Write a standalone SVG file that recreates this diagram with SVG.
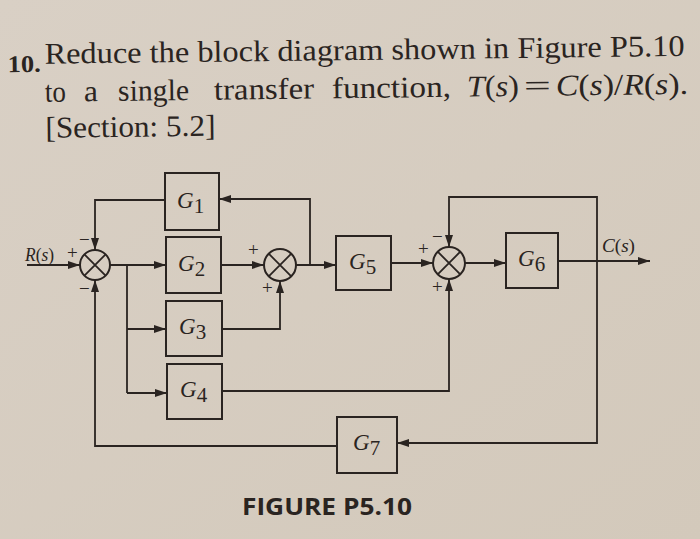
<svg xmlns="http://www.w3.org/2000/svg" width="700" height="539" viewBox="0 0 700 539">
<defs>
<marker id="ah" viewBox="0 0 12 8" refX="12" refY="4" markerWidth="12" markerHeight="8" markerUnits="userSpaceOnUse" orient="auto">
<path d="M0,0 L12,4 L0,8 Z" fill="#2a2421"/>
</marker>
<linearGradient id="bg" x1="0" y1="0" x2="1" y2="1">
<stop offset="0" stop-color="#d9d0c5"/>
<stop offset="1" stop-color="#d3c9bb"/>
</linearGradient>
</defs>
<style>
.t{font-family:"Liberation Serif","Times New Roman",serif;fill:#2a2421}
.l2{font-size:30px}
.i{font-style:italic}
.blk{fill:none;stroke:#2a2421;stroke-width:2}
.w{fill:none;stroke:#2a2421;stroke-width:1.8}
.a{marker-end:url(#ah)}
.g{font-family:"Liberation Serif",serif;font-style:italic;font-size:23px;fill:#2a2421}
.sub{font-style:normal;font-size:21px}
.s{font-family:"Liberation Serif",serif;font-size:19px;fill:#2a2421}
</style>
<rect width="700" height="539" fill="url(#bg)"/>
<g id="title" transform="rotate(-0.7 350 90)">
<text class="t" x="8" y="68" font-size="24" font-weight="bold" textLength="33" lengthAdjust="spacingAndGlyphs">10.</text>
<text class="t" x="45" y="60" font-size="30" textLength="640" lengthAdjust="spacingAndGlyphs">Reduce the block diagram shown in Figure P5.10</text>
<text class="t l2" x="45" y="98" textLength="21" lengthAdjust="spacingAndGlyphs">to</text>
<text class="t l2" x="84" y="98" textLength="14" lengthAdjust="spacingAndGlyphs">a</text>
<text class="t l2" x="118" y="98" textLength="71" lengthAdjust="spacingAndGlyphs">single</text>
<text class="t l2" x="214" y="98" textLength="100" lengthAdjust="spacingAndGlyphs">transfer</text>
<text class="t l2" x="332" y="98" textLength="119" lengthAdjust="spacingAndGlyphs">function,</text>
<text class="t l2" x="467" y="98" textLength="52" lengthAdjust="spacingAndGlyphs"><tspan class="i">T</tspan>(<tspan class="i">s</tspan>)</text>
<text class="t l2" x="524" y="98" textLength="27" lengthAdjust="spacingAndGlyphs">=</text>
<text class="t l2" x="556" y="98" textLength="132" lengthAdjust="spacingAndGlyphs"><tspan class="i">C</tspan>(<tspan class="i">s</tspan>)/<tspan class="i">R</tspan>(<tspan class="i">s</tspan>).</text>
<text class="t" x="45" y="134" font-size="30" textLength="170" lengthAdjust="spacingAndGlyphs">[Section: 5.2]</text>
</g>
<g id="connectors">
<path class="w a" d="M27,265 H80"/>
<path class="w a" d="M110,265 H166"/>
<path class="w" d="M127,265 V393"/>
<path class="w a" d="M127,329 H166"/>
<path class="w a" d="M127,393 H167"/>
<path class="w a" d="M221,265 H264"/>
<path class="w a" d="M222,329 H280 V281"/>
<path class="w a" d="M296,265 H336"/>
<path class="w a" d="M310,265 V199 H219"/>
<path class="w a" d="M165,200 H95 V250"/>
<path class="w a" d="M391,263 H433"/>
<path class="w a" d="M464,263 H506"/>
<path class="w a" d="M558,261 H650"/>
<path class="w a" d="M597,261 V197 H449 V247"/>
<path class="w a" d="M597,261 V443 H397"/>
<path class="w a" d="M337,446 H95 V280"/>
<path class="w a" d="M222,391 H449 V279"/>
</g>
<g id="sum1">
<circle class="blk" cx="95" cy="265" r="15"/>
<path class="w" d="M84.4,254.4 L105.6,275.6 M105.6,254.4 L84.4,275.6"/>
<text class="s" x="67" y="259">+</text>
<text class="s" x="79" y="246">−</text>
<text class="s" x="79" y="295">−</text>
</g>
<g id="sum2">
<circle class="blk" cx="280" cy="265" r="16"/>
<path class="w" d="M268.7,253.7 L291.3,276.3 M291.3,253.7 L268.7,276.3"/>
<text class="s" x="248" y="256">+</text>
<text class="s" x="262" y="294">+</text>
</g>
<g id="sum3">
<circle class="blk" cx="449" cy="263" r="16"/>
<path class="w" d="M437.7,251.7 L460.3,274.3 M460.3,251.7 L437.7,274.3"/>
<text class="s" x="418" y="255">+</text>
<text class="s" x="432" y="243">−</text>
<text class="s" x="432" y="293">+</text>
</g>
<g id="G1"><rect class="blk" x="165" y="173" width="54" height="57"/><text class="g" x="177" y="208">G<tspan class="sub" dy="5">1</tspan></text></g>
<g id="G2"><rect class="blk" x="166" y="237" width="55" height="56"/><text class="g" x="178" y="271">G<tspan class="sub" dy="5">2</tspan></text></g>
<g id="G3"><rect class="blk" x="166" y="301" width="56" height="55"/><text class="g" x="179" y="334">G<tspan class="sub" dy="5">3</tspan></text></g>
<g id="G4"><rect class="blk" x="167" y="364" width="55" height="55"/><text class="g" x="180" y="397">G<tspan class="sub" dy="5">4</tspan></text></g>
<g id="G5"><rect class="blk" x="336" y="236" width="55" height="54"/><text class="g" x="349" y="269">G<tspan class="sub" dy="5">5</tspan></text></g>
<g id="G6"><rect class="blk" x="506" y="233" width="52" height="55"/><text class="g" x="518" y="266">G<tspan class="sub" dy="5">6</tspan></text></g>
<g id="G7"><rect class="blk" x="337" y="417" width="60" height="56"/><text class="g" x="353" y="450">G<tspan class="sub" dy="5">7</tspan></text></g>
<g id="labels">
<text class="t" x="25" y="261" font-size="19" textLength="29" lengthAdjust="spacingAndGlyphs"><tspan class="i">R</tspan>(<tspan class="i">s</tspan>)</text>
<text class="t" x="602" y="252" font-size="19" textLength="33" lengthAdjust="spacingAndGlyphs"><tspan class="i">C</tspan>(<tspan class="i">s</tspan>)</text>
<text x="242" y="515" font-family="'Open Sans','Liberation Sans',sans-serif" font-weight="bold" font-size="24" fill="#2a2421" textLength="170" lengthAdjust="spacingAndGlyphs">FIGURE P5.10</text>
</g>
</svg>
